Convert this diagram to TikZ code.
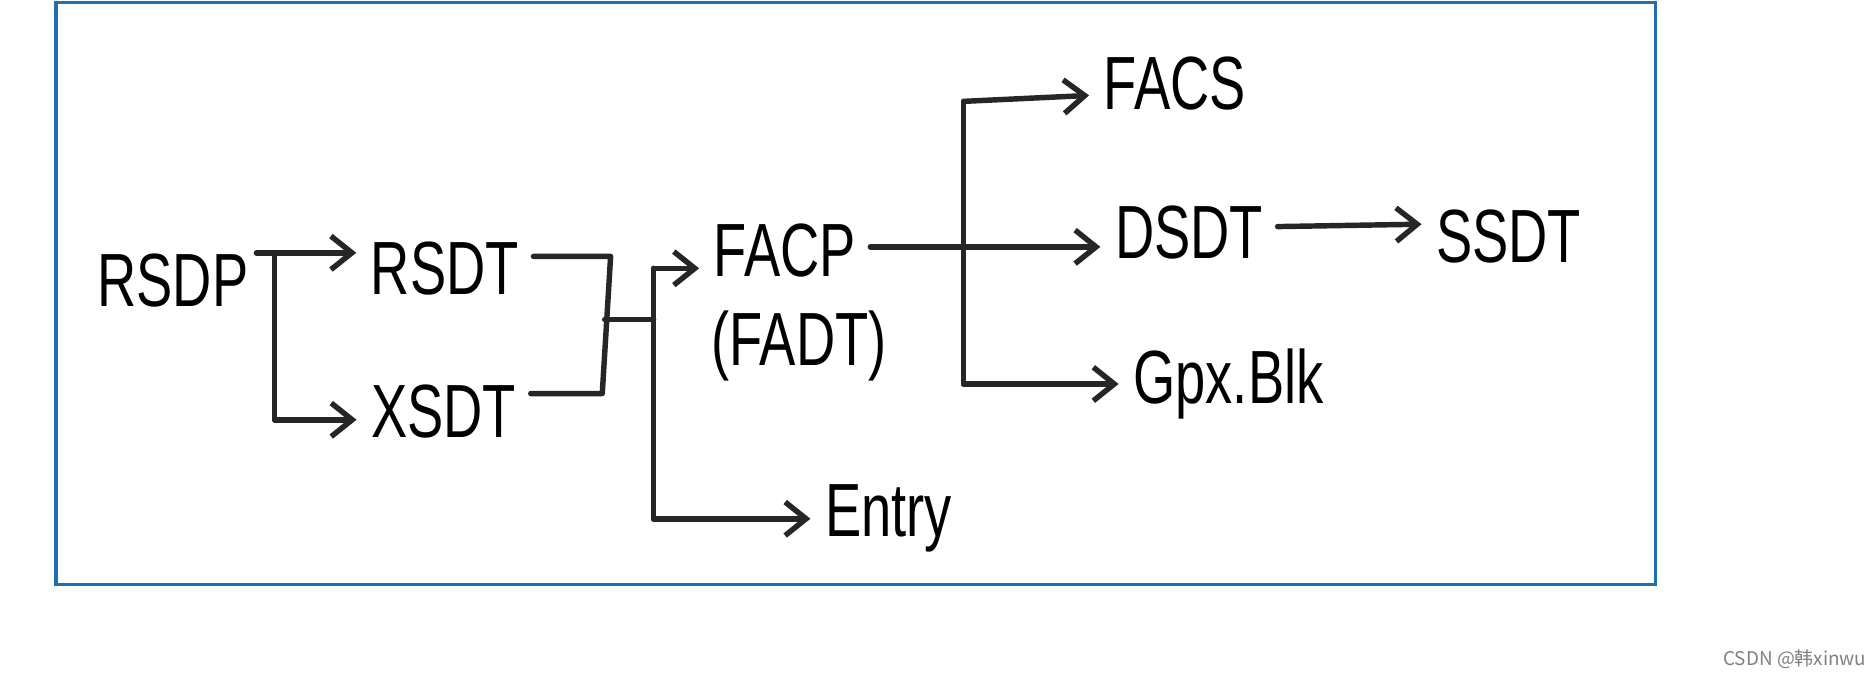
\documentclass[tikz,border=0pt]{standalone}
\usepackage{fontspec}
\newfontfamily\hand[FakeStretch=0.72]{Liberation Sans}
\newfontfamily\cjk{Noto Sans CJK SC}
\usetikzlibrary{arrows.meta}
\begin{document}
\begin{tikzpicture}[x=0.02cm,y=-0.02cm,
  lbl/.style={font=\hand\fontsize{36}{40}\selectfont, inner sep=2pt, outer sep=5pt},
  ln/.style={line width=2.6pt, draw=black!85, line cap=round, line join=round},
  arr/.style={ln, -{Straight Barb[length=10pt,width=16pt,line width=2.6pt]}}]
\useasboundingbox (0,0) rectangle (1568,567);
\draw[line width=1.6pt, draw={rgb,255:red,30;green,110;blue,180}] (47,2) rectangle (1388,490);
\node[lbl] (rsdp) at (145,235) {RSDP};
\node[lbl] (rsdt) at (373,225) {RSDT};
\node[lbl] (xsdt) at (372,345) {XSDT};
\node[lbl] (facp) at (658,210) {FACP};
\node[lbl] (fadt) at (670,290) {(FADT)};
\node[lbl] (entry) at (745,435) {Entry};
\node[lbl] (facs) at (985,70) {FACS};
\node[lbl] (dsdt) at (997,195) {DSDT};
\node[lbl] (ssdt) at (1265,198) {SSDT};
\node[lbl] (gpx) at (1030,322) {Gpx.Blk};
\node[font=\cjk\fontsize{9}{10}\selectfont, text=black!50] (wm) at (1505,553) {CSDN @韩xinwu};
\coordinate (a1) at (215,212);
\coordinate (a2) at (230,212);
\coordinate (a3) at (230,352);
\draw[arr] (a1) -- (rsdt.west |- a1);
\draw[arr] (a2) -- (a3) -- (xsdt.west |- a3);
\coordinate (b1) at (512,215);
\coordinate (b2) at (505,330);
\coordinate (b3) at (507,268);
\coordinate (b4) at (548,268);
\draw[ln] (rsdt.east |- b1) -- (b1) -- (b2) -- (xsdt.east |- b2);
\draw[ln] (b3) -- (b4);
\coordinate (c1) at (548,225);
\coordinate (c2) at (548,435);
\draw[ln] (c1) -- (c2);
\draw[arr] (c1) -- (facp.west |- c1);
\draw[arr] (c2) -- (entry.west |- c2);
\coordinate (d1) at (808,85);
\coordinate (d2) at (808,322);
\draw[arr] (facp.east |- 0,207) -- (dsdt.west |- 0,207);
\draw[ln] (d1) -- (d2);
\draw[arr] (d1) -- (facs.west |- 0,80);
\draw[arr] (d2) -- (gpx.west |- d2);
\draw[arr] (dsdt.east |- 0,190) -- (ssdt.west |- 0,188);
\end{tikzpicture}
\end{document}
